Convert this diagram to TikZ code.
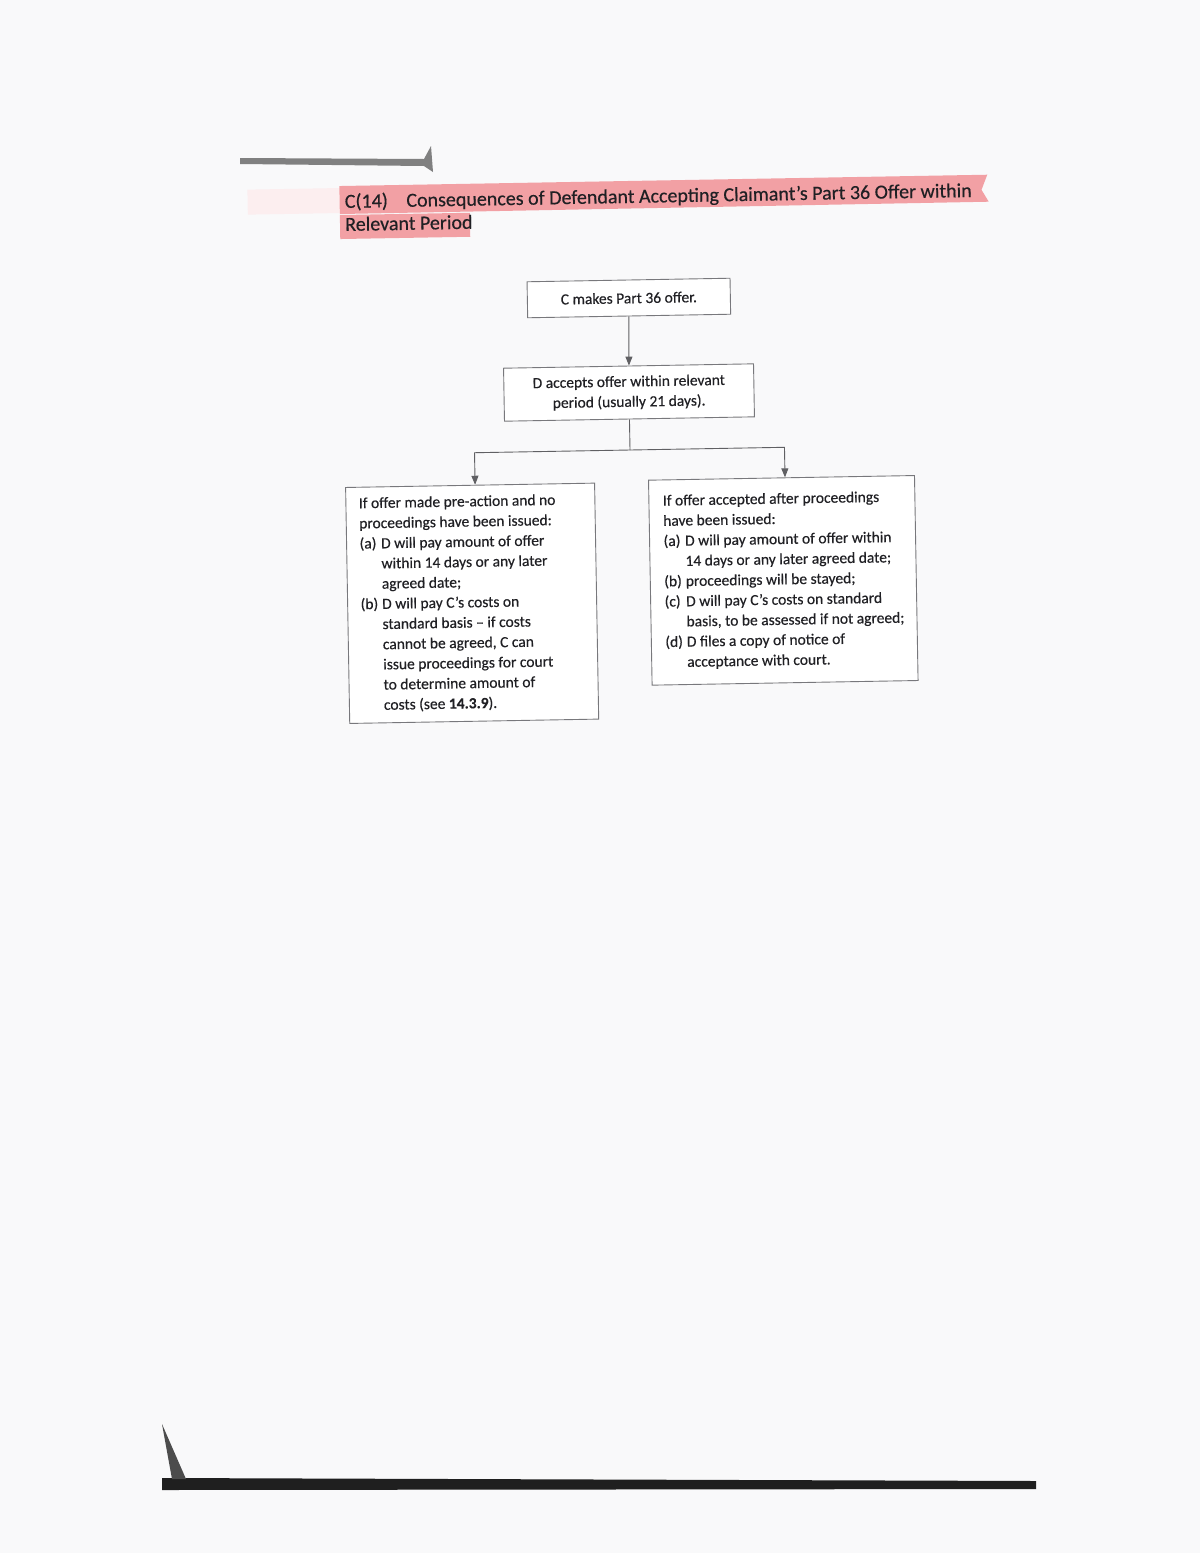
\documentclass[tikz,border=0pt]{standalone}
\usepackage{fontspec}
\newfontfamily\bookfont[FakeBold=0.4]{Carlito}
\usetikzlibrary{arrows.meta,calc}
\definecolor{paper}{RGB}{249,249,250}
\definecolor{ink}{RGB}{32,32,36}
\definecolor{boxline}{RGB}{120,120,124}
\definecolor{hilite}{RGB}{242,160,164}
\definecolor{hilitefaint}{RGB}{252,238,239}
\tikzset{
  flowbox/.style={draw=boxline, line width=0.9pt, fill=white, text=ink, font=\bookfont\fontsize{15.5}{20.2}\selectfont, inner sep=0pt},
  listbox/.style={flowbox, align=left, execute at begin node={\spaceskip=0pt\xspaceskip=0pt\relax}},
  conn/.style={draw=boxline!80!black, line width=0.9pt},
  arr/.style={conn, -{Triangle[width=7pt,length=9pt]}},
  titletext/.style={text=ink, font=\bookfont\fontsize{20}{23}\selectfont, inner xsep=2pt, inner ysep=3pt, anchor=base west}
}
\begin{document}
\begin{tikzpicture}[x=1pt,y=-1pt]
\fill[paper] (0,0) rectangle (1200,1553);
\useasboundingbox (0,0) rectangle (1200,1553);
% photo artefacts: tab shadow at top, dark edge at bottom
\fill[black!50] (240,158) -- (424,159) -- (431,146) -- (433,172) -- (424,166) -- (240,164) -- cycle;
\fill[black!88] (162,1478) -- (1036,1481) -- (1036,1489) -- (162,1490) -- cycle;
\fill[black!70] (162,1424) -- (186,1479) -- (172,1479) -- cycle;
\begin{scope}[rotate around={1:(630,450)}, transform shape]
  % title highlight
  \fill[hilitefaint] (252,183) rectangle (345,208);
  \fill[hilite] (344,181) -- (992,181) -- (986,196) -- (993,208) -- (344,209) -- cycle;
  \fill[hilite] (344,210) rectangle (474,234);
  \node[titletext] (t1) at (347,203) {C(14)\hspace{0.7em} Consequences of Defendant Accepting Claimant’s Part 36 Offer within};
  \node[titletext] (t2) at (347,226) {Relevant Period};
  % boxes
  \node[flowbox, minimum width=203pt, minimum height=36pt] (c1) at (631.5,298) {C makes Part 36 offer.};
  \node[flowbox, minimum width=250pt, minimum height=53pt, align=center] (c2) at (630,392.5) {D accepts offer within relevant\\period (usually 21 days).};
  \node[listbox, minimum width=249pt, minimum height=236pt, text width=223pt] (lb) at (469.5,600.5) {%
    \begin{tabular}{@{}l@{\hspace{4pt}}l@{}}
    \multicolumn{2}{@{}l@{}}{If offer made pre-action and no}\\
    \multicolumn{2}{@{}l@{}}{proceedings have been issued:}\\
    (a) & D will pay amount of offer\\
        & within 14 days or any later\\
        & agreed date;\\
    (b) & D will pay C’s costs on\\
        & standard basis – if costs\\
        & cannot be agreed, C can\\
        & issue proceedings for court\\
        & to determine amount of\\
        & costs (see \textbf{14.3.9}).
    \end{tabular}};
  \node[listbox, minimum width=266pt, minimum height=205pt, text width=238pt] (rb) at (781,583) {%
    \begin{tabular}{@{}l@{\hspace{4pt}}l@{}}
    \multicolumn{2}{@{}l@{}}{If offer accepted after proceedings}\\
    \multicolumn{2}{@{}l@{}}{have been issued:}\\
    (a) & D will pay amount of offer within\\
        & 14 days or any later agreed date;\\
    (b) & proceedings will be stayed;\\
    (c) & D will pay C’s costs on standard\\
        & basis, to be assessed if not agreed;\\
    (d) & D files a copy of notice of\\
        & acceptance with court.
    \end{tabular}};
  % connectors
  \coordinate (j) at (630,450);
  \coordinate (jl) at (474.5,450);
  \coordinate (jr) at (784.5,450);
  \draw[arr] (c1) -- (c2);
  \draw[conn] (c2.south) -- (j);
  \draw[arr] (j) -- (jl) -- (jl |- lb.north);
  \draw[arr] (j) -- (jr) -- (jr |- rb.north);
\end{scope}
\end{tikzpicture}
\end{document}
